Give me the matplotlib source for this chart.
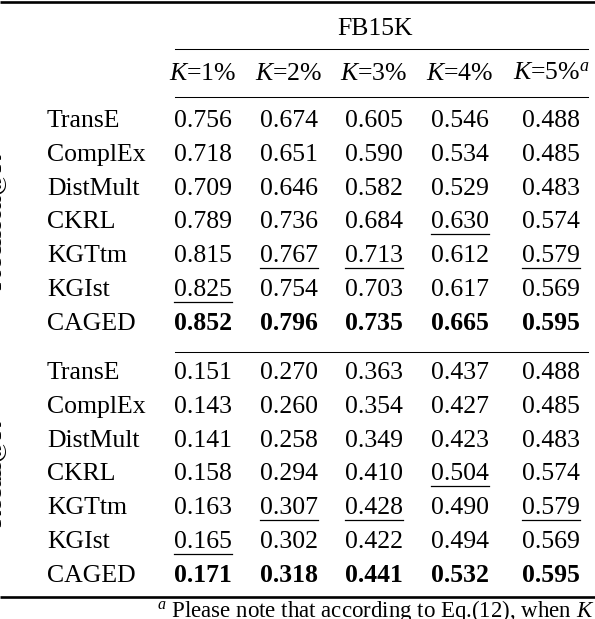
import numpy as np
import matplotlib.pyplot as plt

plt.rcParams['font.family'] = ['Liberation Serif', 'DejaVu Serif']
plt.rcParams['mathtext.fontset'] = 'custom'
plt.rcParams['mathtext.rm'] = 'Liberation Serif'
plt.rcParams['mathtext.it'] = 'Liberation Serif:italic'
plt.rcParams['mathtext.bf'] = 'Liberation Serif:bold'

W, H = 595, 619
BODY_SIZE = 18.5
NOTE_SIZE = 16.5

dataset = "FB15K"
k_labels = ["$K$=1%", "$K$=2%", "$K$=3%", "$K$=4%", "$K$=5%$^{a}$"]
models = ["TransE", "ComplEx", "DistMult", "CKRL", "KGTtm", "KGIst", "CAGED"]
precision = [
    [0.756, 0.674, 0.605, 0.546, 0.488],
    [0.718, 0.651, 0.590, 0.534, 0.485],
    [0.709, 0.646, 0.582, 0.529, 0.483],
    [0.789, 0.736, 0.684, 0.630, 0.574],
    [0.815, 0.767, 0.713, 0.612, 0.579],
    [0.825, 0.754, 0.703, 0.617, 0.569],
    [0.852, 0.796, 0.735, 0.665, 0.595],
]
recall = [
    [0.151, 0.270, 0.363, 0.437, 0.488],
    [0.143, 0.260, 0.354, 0.427, 0.485],
    [0.141, 0.258, 0.349, 0.423, 0.483],
    [0.158, 0.294, 0.410, 0.504, 0.574],
    [0.163, 0.307, 0.428, 0.490, 0.579],
    [0.165, 0.302, 0.422, 0.494, 0.569],
    [0.171, 0.318, 0.441, 0.532, 0.595],
]
block_names = ["Precision@$K$", "Recall@$K$"]
footnote = "$^{a}$ Please note that according to Eq.(12), when $K$"

# layout in pixels
col_x = [203, 289, 374, 460, 551]
name_x = 47
rule_x0, rule_x1 = 175, 588
block_base = [127, 379]
row_step = 33.8

fig = plt.figure(figsize=(W / 100, H / 100), dpi=100)
ax = fig.add_axes([0, 0, 1, 1])
ax.set_xlim(0, W)
ax.set_ylim(H, 0)
ax.axis("off")

# rules
ax.plot([0, W], [1.5, 1.5], color="black", lw=1.9, solid_capstyle="butt")
ax.plot([rule_x0, rule_x1], [49, 49], color="black", lw=0.75)
ax.plot([rule_x0, rule_x1], [97, 97], color="black", lw=0.75)
ax.plot([rule_x0, rule_x1], [352, 352], color="black", lw=0.75)
ax.plot([0, W], [597, 597], color="black", lw=1.9, solid_capstyle="butt")

ax.text(np.mean(col_x), 35, dataset, ha="center", va="baseline", fontsize=BODY_SIZE)
for x, lab in zip(col_x, k_labels):
    ax.text(x, 80, lab, ha="center", va="baseline", fontsize=BODY_SIZE)

underline_cells = []
for b, block in enumerate([precision, recall]):
    vals = np.array(block)
    order = np.argsort(-vals, axis=0)
    best, second = order[0], order[1]
    ys = [block_base[b] + i * row_step for i in range(len(models))]
    for i, (name, row) in enumerate(zip(models, block)):
        ax.text(name_x, ys[i], name, ha="left", va="baseline", fontsize=BODY_SIZE)
        for j, v in enumerate(row):
            bold = best[j] == i
            t = ax.text(col_x[j], ys[i], f"{v:.3f}", ha="center", va="baseline",
                        fontsize=BODY_SIZE, fontweight="bold" if bold else "normal")
            if second[j] == i:
                underline_cells.append((t, ys[i]))
    ax.text(2, (ys[0] + ys[-1]) / 2 - 7, block_names[b], rotation=90,
            rotation_mode="anchor", ha="center", va="baseline", fontsize=BODY_SIZE)

fig.canvas.draw()
renderer = fig.canvas.get_renderer()
inv = ax.transData.inverted()
for t, y in underline_cells:
    bb = t.get_window_extent(renderer)
    (x0, _), (x1, _) = inv.transform([[bb.x0, bb.y0], [bb.x1, bb.y1]])
    ax.plot([x0, x1], [y + 5.5, y + 5.5], color="black", lw=0.9)

ax.text(157, 617, footnote, ha="left", va="baseline", fontsize=NOTE_SIZE)

fig.savefig("out.png", dpi=100)
